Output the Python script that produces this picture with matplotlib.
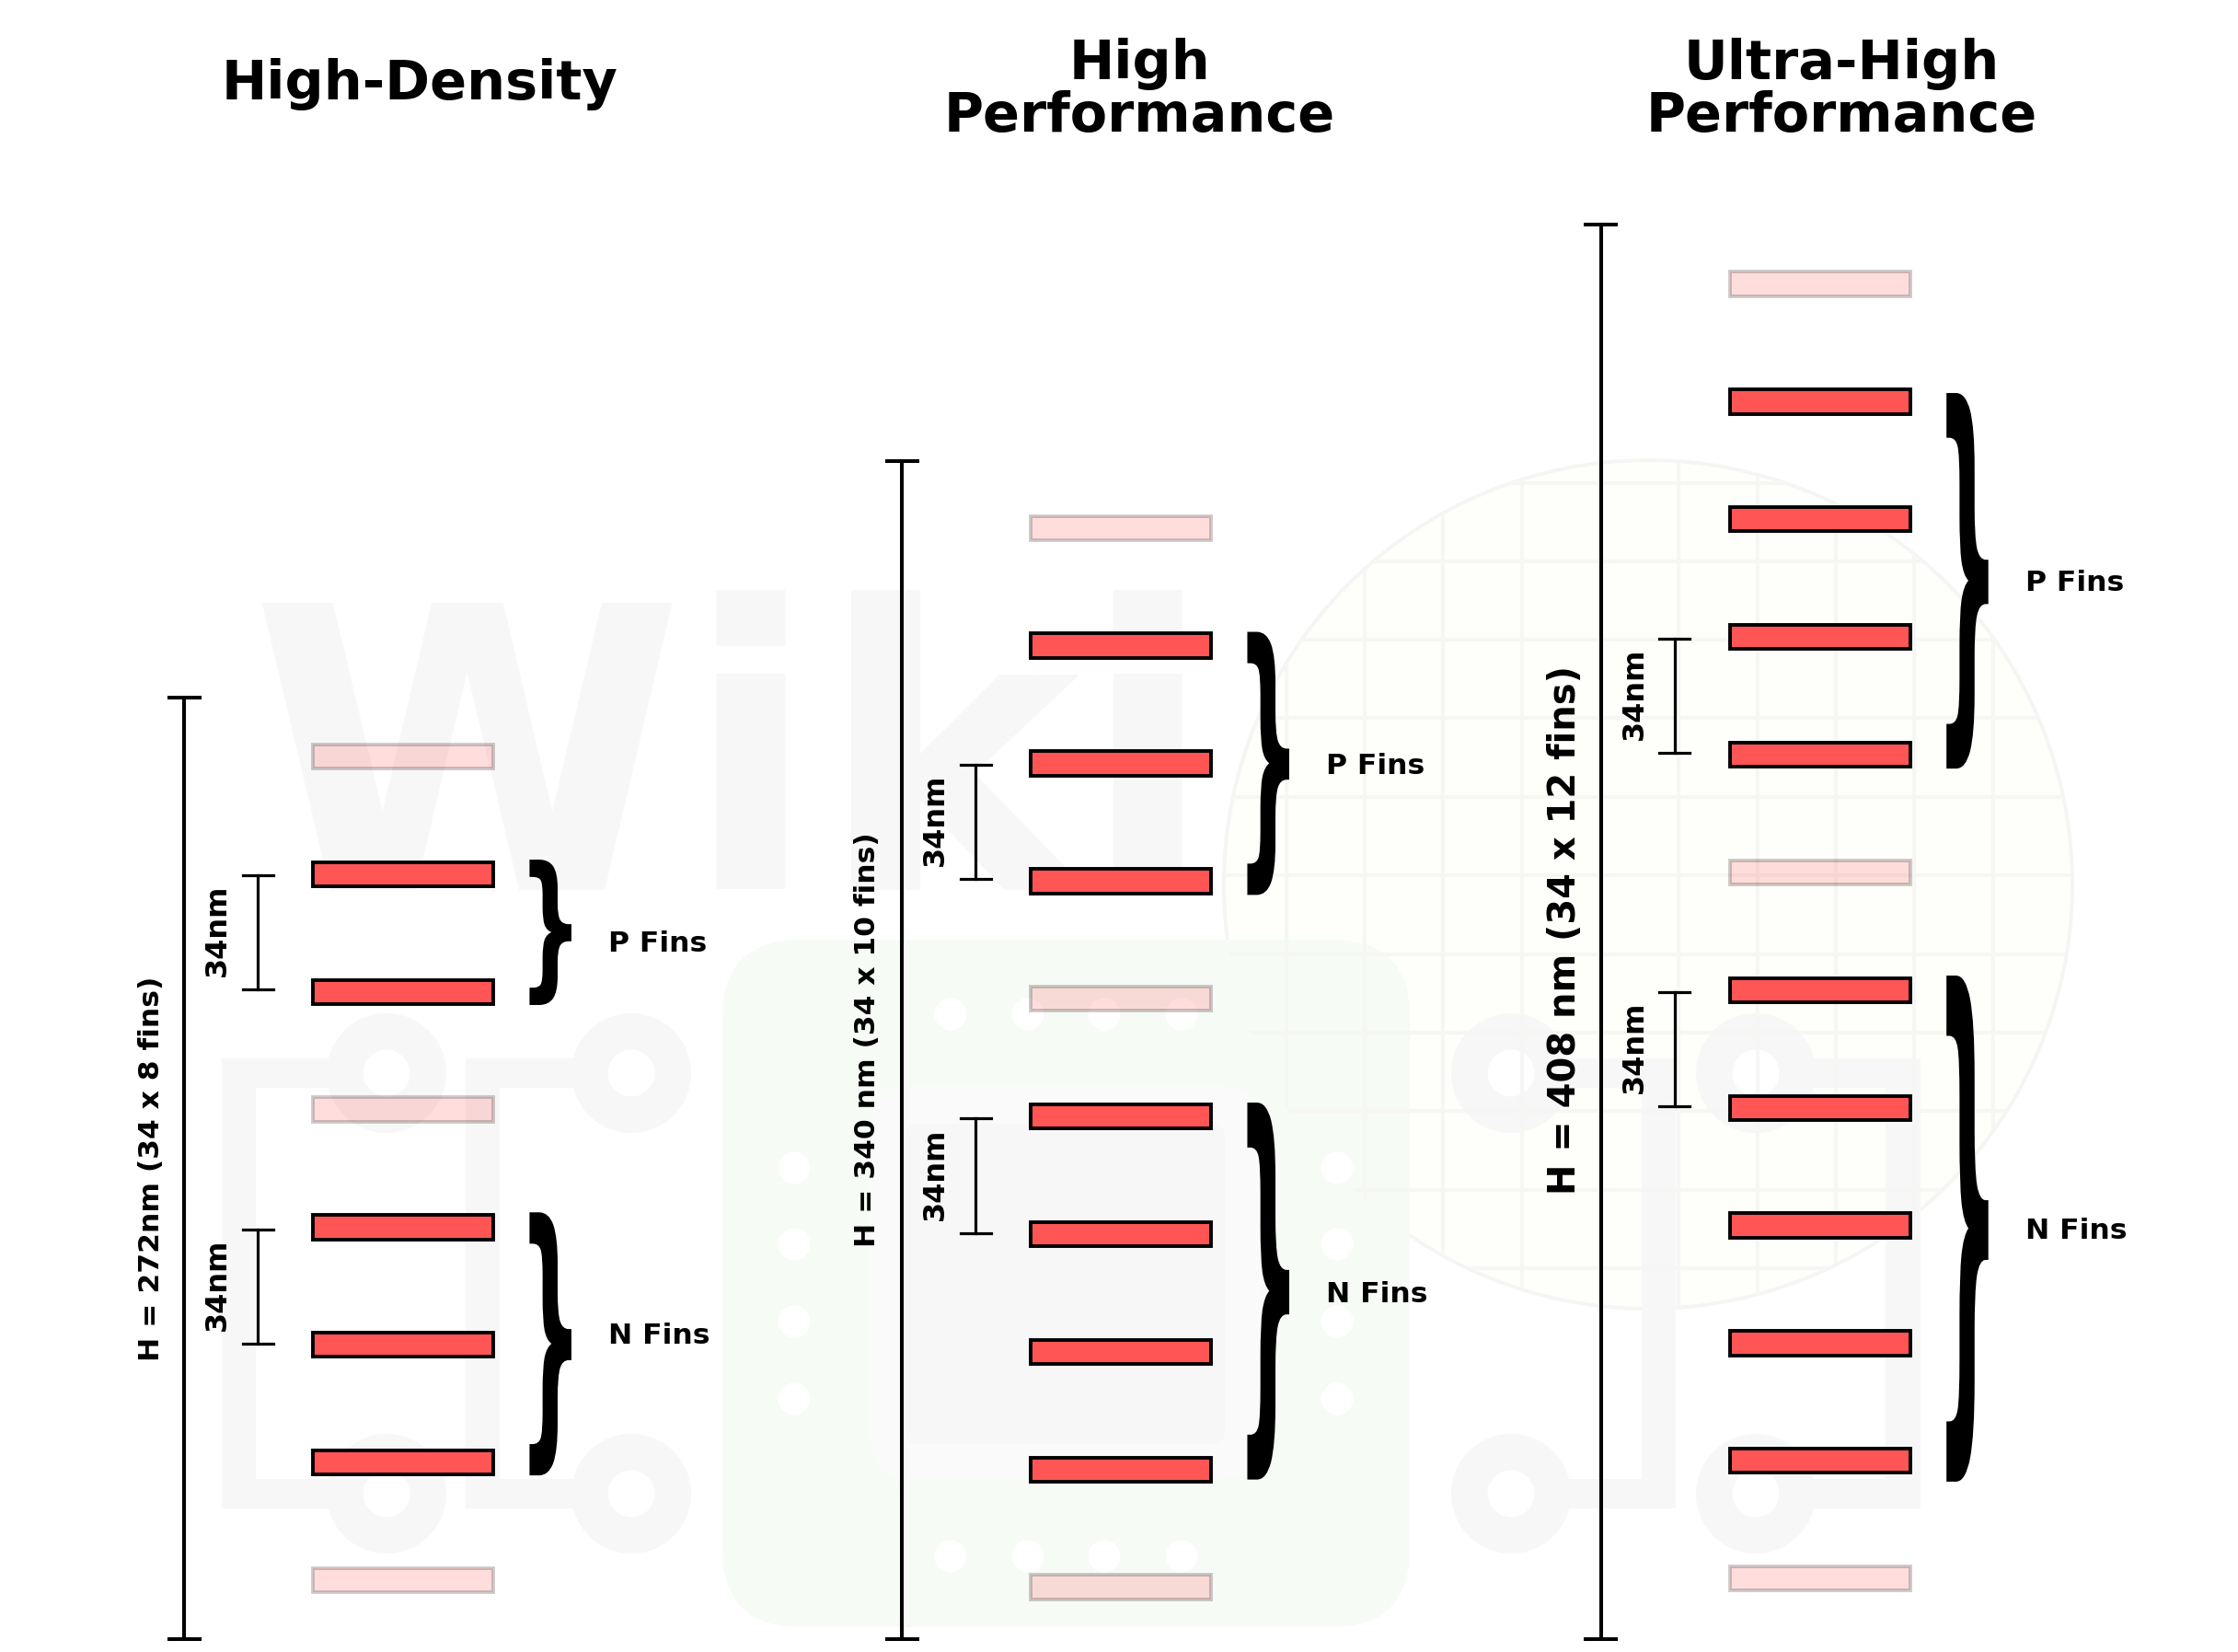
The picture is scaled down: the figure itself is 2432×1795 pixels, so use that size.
import matplotlib
matplotlib.use("Agg")
import matplotlib.pyplot as plt
from matplotlib.patches import Rectangle, Circle, FancyBboxPatch, PathPatch
from matplotlib.textpath import TextPath
from matplotlib.font_manager import FontProperties
from matplotlib.transforms import Affine2D

# Chart values, all in nm
titles = ["High-Density", "High\nPerformance", "Ultra-High\nPerformance"]
title_x = [121.2, 329.2, 532.0]
title_y = [449.2, 447.4, 447.4]

h_line_x = [53.2, 260.6, 462.6]
cell_height = [272, 340.4, 408.8]
h_labels = ["H = 272nm (34 x 8 fins)", "H = 340 nm (34 x 10 fins)", "H = 408 nm (34 x 12 fins)"]
h_label_y = [136.0, 173.2, 204.9]
h_label_size = [11.3, 11.3, 14.4]
h_label_dx = [-9.4, -10.0, -10.2]

active_fins = [
    [51, 85, 119, 187, 221],
    [49, 83, 117, 151, 219, 253, 287],
    [51.5, 85.5, 119.5, 153.5, 187.5, 255.5, 289.5, 323.5, 357.5],
]
dummy_fins = [
    [17, 153, 255],
    [15, 185, 321],
    [17.5, 221.5, 391.5],
]

pitch_bottom = [[85.3, 187.7], [117.2, 219.5], [153.9, 256.0]]
pitch_top = [[118.4, 220.7], [150.4, 252.5], [186.9, 289.0]]

p_brace = [(183.2, 225.2), (215.0, 291.0), (251.5, 360.0)]
n_brace = [(47.3, 123.3), (46.1, 155.0), (45.5, 191.7)]
p_label_y = [201.0, 252.3, 305.2]
n_label_y = [87.5, 99.5, 117.8]

# Faint background art, in image pixels
wafer_x, wafer_y, wafer_r = 1791, 961, 461
wafer_grid_x = [1398, 1483, 1568, 1654, 1739, 1824, 1910, 1995, 2080, 2166]
wafer_grid_y = [525, 610, 695, 780, 866, 951, 1037, 1122, 1207, 1293, 1378]
pad_x = [420, 686, 1642, 1908]
pad_y = [1166, 1623]
trace_left = [(241, 278, 420), (506, 543, 686)]
trace_right = [(1821, 1784, 1642), (2087, 2049, 1908)]
chip_dot_x = [1033, 1117, 1200, 1284]
chip_dot_y = [1269, 1352, 1436, 1520]

PX_PER_NM = 3.761
FIN_RED = "#ff5555"
WM_GRAY = "#f7f7f7"

fig = plt.figure(figsize=(12.16, 8.975), dpi=200)

# Background layer
bg = fig.add_axes([0, 0, 1, 1])
bg.set_xlim(0, 2432)
bg.set_ylim(1795, 0)
bg.axis("off")

wafer = Circle((wafer_x, wafer_y), wafer_r, fc="#fefefb", ec="#f5f5f4", lw=1.4)
bg.add_patch(wafer)
for x in wafer_grid_x:
    ln = bg.plot([x, x], [wafer_y - wafer_r, wafer_y + wafer_r], color="#f6f6f5", lw=1.5)[0]
    ln.set_clip_path(wafer)
for y in wafer_grid_y:
    ln = bg.plot([wafer_x - wafer_r, wafer_x + wafer_r], [y, y], color="#f6f6f5", lw=1.5)[0]
    ln.set_clip_path(wafer)

# Circuit traces, bracket shaped with round pads at the ends
for outer, inner, pad in trace_left + trace_right:
    x0 = min(outer, inner)
    w = abs(outer - inner)
    bg.add_patch(Rectangle((x0, 1150), w, 489, fc=WM_GRAY, ec="none"))
    bg.add_patch(Rectangle((min(x0, pad), 1150), abs(pad - outer), 32, fc=WM_GRAY, ec="none"))
    bg.add_patch(Rectangle((min(x0, pad), 1607), abs(pad - outer), 32, fc=WM_GRAY, ec="none"))
for x in pad_x:
    for y in pad_y:
        bg.add_patch(Circle((x, y), 65, fc=WM_GRAY, ec="none"))
        bg.add_patch(Circle((x, y), 25.5, fc="white", ec="none"))

# Chip in the middle
bg.add_patch(FancyBboxPatch((785, 1021), 747, 747, boxstyle="round,pad=0,rounding_size=85",
                            fc="#f6fbf6", ec="none"))
bg.add_patch(FancyBboxPatch((946, 1180), 424, 427, boxstyle="round,pad=0,rounding_size=45",
                            fc="#fafafa", ec="none"))
bg.add_patch(FancyBboxPatch((984, 1221), 347, 348, boxstyle="round,pad=0,rounding_size=15",
                            fc="#f7f7f7", ec="none"))
for x in chip_dot_x:
    bg.add_patch(Circle((x, 1102), 17.5, fc="white", ec="none"))
    bg.add_patch(Circle((x, 1691), 17.5, fc="white", ec="none"))
for y in chip_dot_y:
    bg.add_patch(Circle((863, y), 17.5, fc="white", ec="none"))
    bg.add_patch(Circle((1453, y), 17.5, fc="white", ec="none"))

bg.text(271, 967, "Wiki", fontsize=154, fontweight="bold", color=WM_GRAY, va="baseline", ha="left")

# Main layer, 1 data unit = 1 nm
ax = fig.add_axes([0, 0, 1, 1], facecolor="none")
ax.set_xlim(0, 2432 / PX_PER_NM)
ax.set_ylim(-14 / PX_PER_NM, 1781 / PX_PER_NM)
ax.axis("off")

brace_prop = FontProperties(family="DejaVu Sans", weight="bold")


def draw_brace(x0, x1, y0, y1):
    # the glyph is stretched to the span it marks
    tp = TextPath((0, 0), "}", size=1, prop=brace_prop)
    ext = tp.get_extents()
    tr = Affine2D().translate(-ext.x0, -ext.y0).scale((x1 - x0) / ext.width, (y1 - y0) / ext.height).translate(x0, y0)
    ax.add_patch(PathPatch(tr.transform_path(tp), fc="black", ec="none"))


for i in range(3):
    hx = h_line_x[i]
    # cell height bar
    ax.plot([hx, hx], [0, cell_height[i]], color="black", lw=1.45)
    for y in [0, cell_height[i]]:
        ax.plot([hx - 4.4, hx + 4.4], [y, y], color="black", lw=1.45)
    ax.text(hx + h_label_dx[i], h_label_y[i], h_labels[i], rotation=90, ha="center", va="center",
            fontsize=h_label_size[i], fontweight="bold")

    # fins
    fx = hx + 37.2
    for c in active_fins[i]:
        ax.add_patch(Rectangle((fx, c - 3.5), 52.1, 7, fc=FIN_RED, ec="black", lw=1.4))
    for c in dummy_fins[i]:
        ax.add_patch(Rectangle((fx, c - 3.5), 52.1, 7, fc=FIN_RED, ec="black", lw=1.4, alpha=0.2))

    # fin pitch markers
    mx = hx + 21.3
    for b, t in zip(pitch_bottom[i], pitch_top[i]):
        ax.plot([mx, mx], [b, t], color="black", lw=1.15)
        for y in [b, t]:
            ax.plot([mx - 4.4, mx + 4.4], [y, y], color="black", lw=1.15)
        ax.text(hx + 9.6, (b + t) / 2 + 0.6, "34nm", rotation=90, ha="center", va="center",
                fontsize=11.5, fontweight="bold")

    # braces and their labels
    draw_brace(hx + 99.8, hx + 111.9, *p_brace[i])
    draw_brace(hx + 99.8, hx + 111.9, *n_brace[i])
    ax.text(hx + 122.5, p_label_y[i], "P Fins", ha="left", va="center", fontsize=11.3, fontweight="bold")
    ax.text(hx + 122.5, n_label_y[i], "N Fins", ha="left", va="center", fontsize=11.3, fontweight="bold")

    ax.text(title_x[i], title_y[i], titles[i], ha="center", va="center", fontsize=21.2,
            fontweight="bold", linespacing=1.0)

fig.savefig("out.png", dpi=200)
